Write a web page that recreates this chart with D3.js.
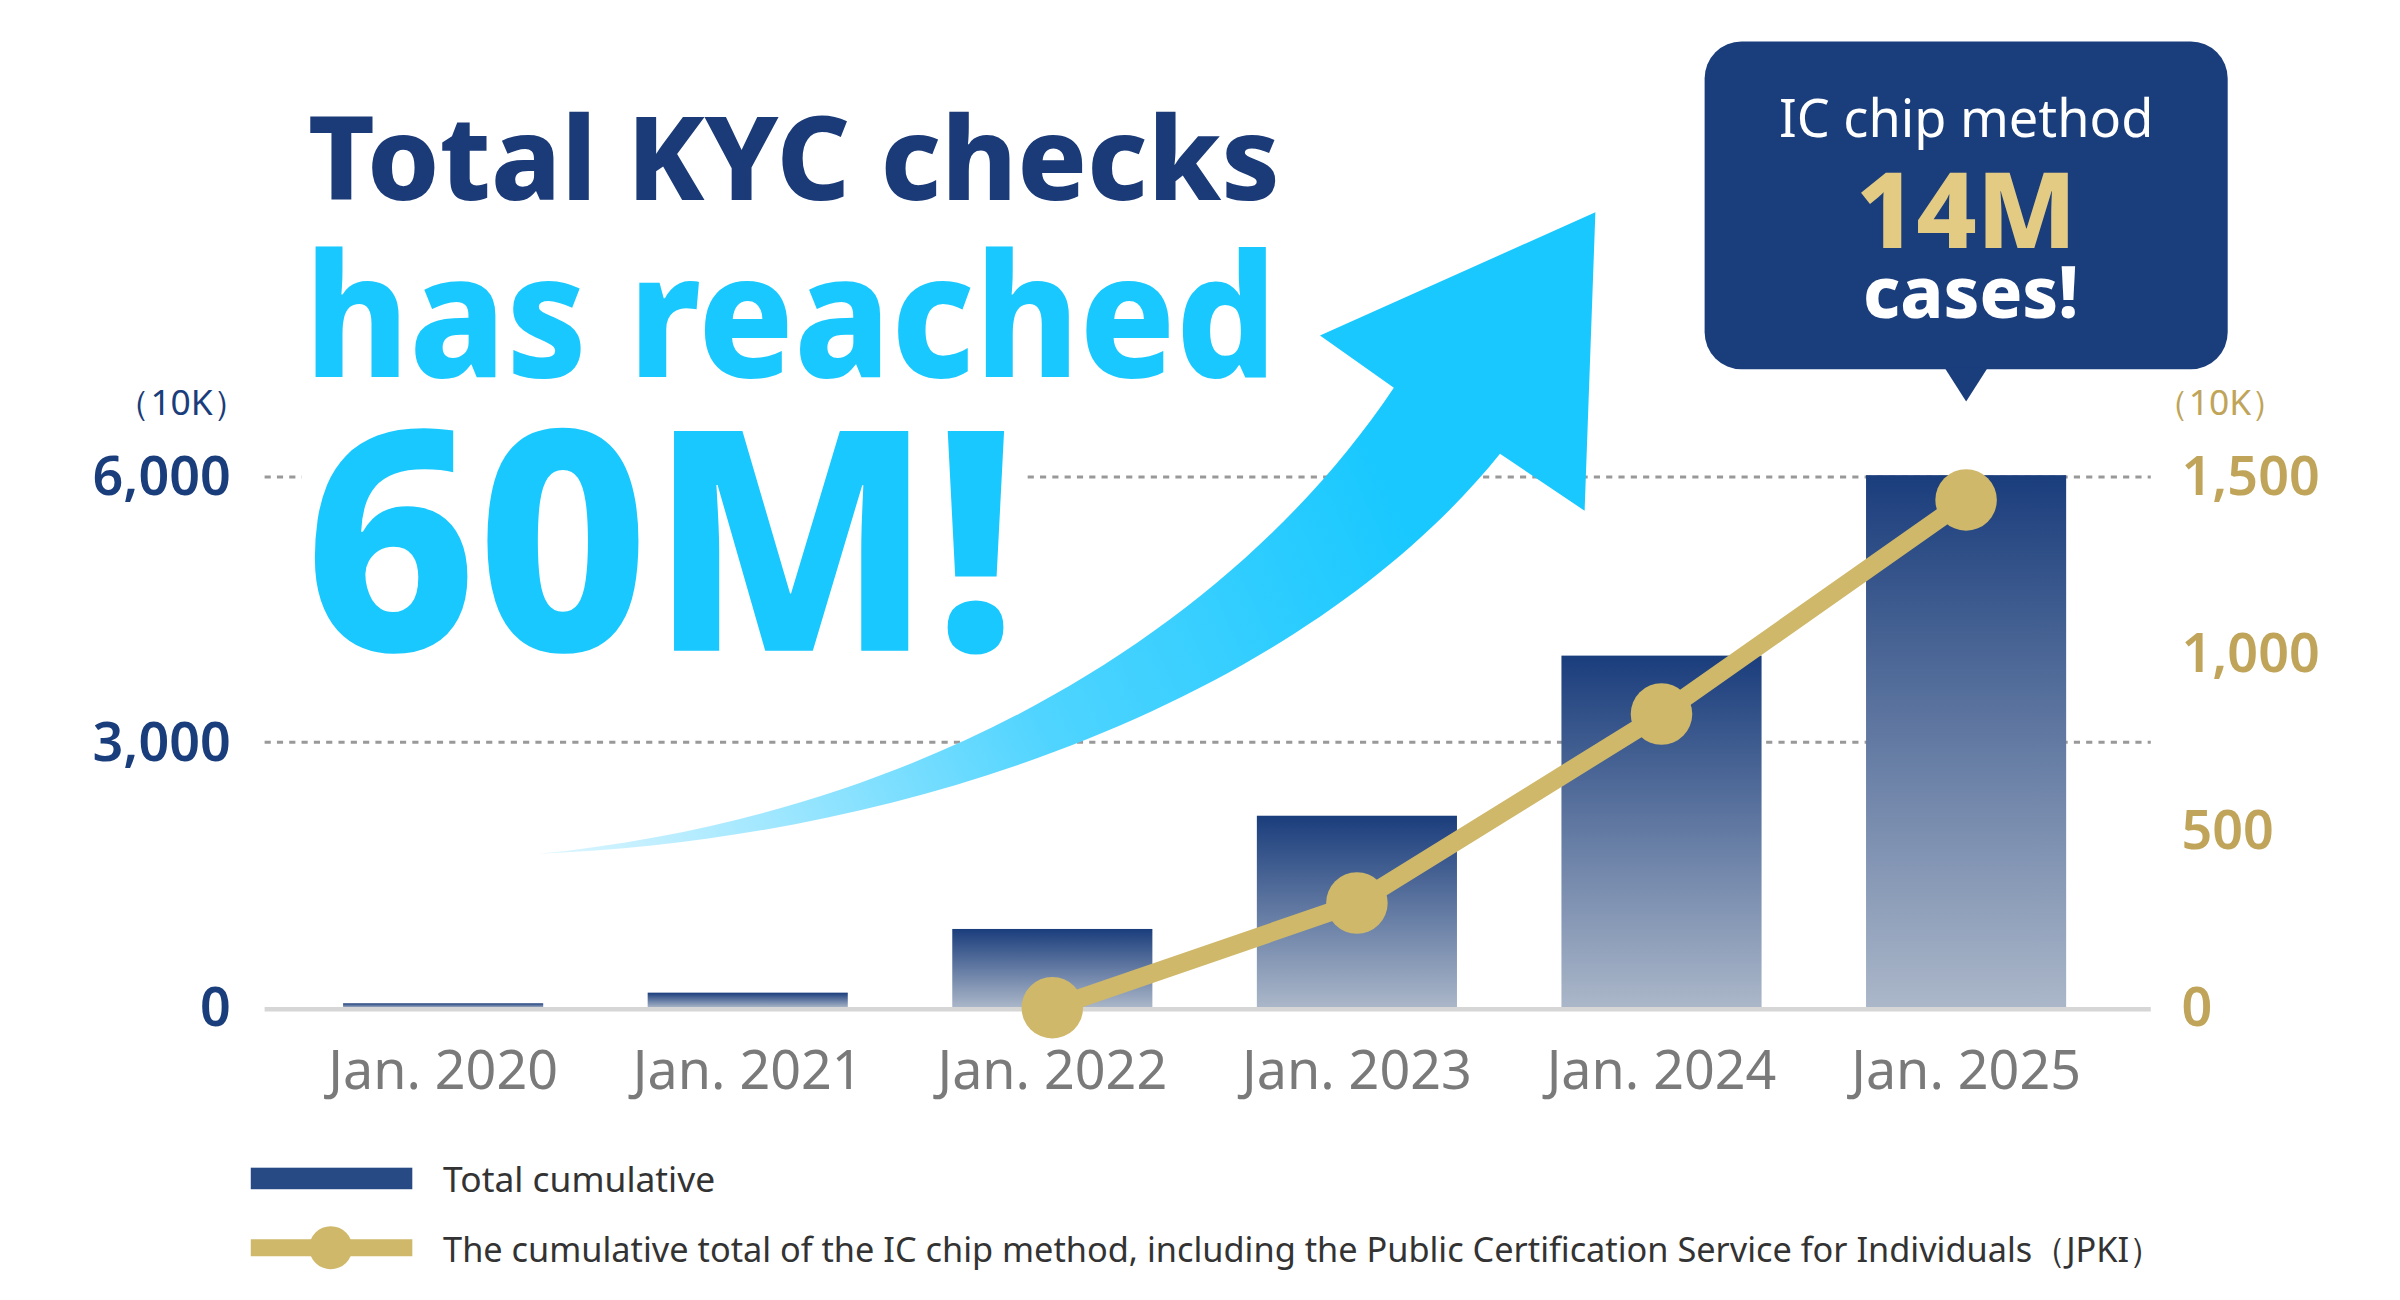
<!DOCTYPE html>
<html><head><meta charset="utf-8">
<script src="https://cdn.jsdelivr.net/npm/d3@7"></script>
<style>body{margin:0;background:#fff}</style></head>
<body><svg id="c" width="2400" height="1300"></svg>
<script>
const categories=["Jan. 2020","Jan. 2021","Jan. 2022","Jan. 2023","Jan. 2024","Jan. 2025"];
const totalValues=[50,170,890,2170,3980,6020];
const icYears=["Jan. 2022","Jan. 2023","Jan. 2024","Jan. 2025"];
const icValues=[0,296,830,1435];
const leftTicks=[0,3000,6000];
const rightTicks=[0,500,1000,1500];

const svg=d3.select("#c").attr("viewBox","0 0 1560 845");
const F="'Noto Sans', 'Open Sans', sans-serif";
const defs=svg.append("defs");
const bg=defs.append("linearGradient").attr("id","bg").attr("x1",0).attr("y1",0).attr("x2",0).attr("y2",1);
bg.append("stop").attr("offset",0).attr("stop-color","#1a3d7c");
bg.append("stop").attr("offset",1).attr("stop-color","#abb7c9");
const ag=defs.append("linearGradient").attr("id","ag").attr("gradientUnits","userSpaceOnUse").attr("x1",350).attr("y1",555).attr("x2",900).attr("y2",300);
ag.append("stop").attr("offset",0).attr("stop-color","#dff6ff");
ag.append("stop").attr("offset",0.55).attr("stop-color","#4fd4ff");
ag.append("stop").attr("offset",1).attr("stop-color","#18c8ff");

const x=d3.scaleBand().domain(categories).range([223,1343]).paddingInner(0.343).paddingOuter(0);
const yL=d3.scaleLinear().domain([0,6000]).range([655,310]);
const yR=d3.scaleLinear().domain([0,1500]).range([655,310]);
const cx=d=>x(d)+x.bandwidth()/2;

svg.append("g").selectAll("line").data(leftTicks.filter(d=>d>0)).join("line")
 .attr("x1",172).attr("x2",1398).attr("y1",d=>yL(d)).attr("y2",d=>yL(d))
 .attr("stroke","#999").attr("stroke-width",2).attr("stroke-dasharray","4,4");
svg.append("rect").attr("x",196).attr("y",270).attr("width",470).attr("height",160).attr("fill","#fff");

svg.append("g").selectAll("rect").data(totalValues).join("rect")
 .attr("x",(d,i)=>x(categories[i])).attr("width",x.bandwidth())
 .attr("y",d=>yL(d)).attr("height",d=>yL(0)-yL(d)).attr("fill","url(#bg)");
svg.append("line").attr("x1",172).attr("x2",1398).attr("y1",656).attr("y2",656).attr("stroke","#d6d6d6").attr("stroke-width",3);

svg.append("path").attr("d","M350,555 C600,545 850,450 975,295 L1030,332 L1037,138 L858,218 L906,252 C800,410 600,530 350,555 Z").attr("fill","url(#ag)");

const line=d3.line().x((d,i)=>cx(icYears[i])).y(d=>yR(d));
svg.append("path").attr("d",line(icValues)).attr("fill","none").attr("stroke","#cfb86a").attr("stroke-width",12);
svg.append("g").selectAll("circle").data(icValues).join("circle")
 .attr("cx",(d,i)=>cx(icYears[i])).attr("cy",d=>yR(d)).attr("r",20).attr("fill","#cfb86a");

const fmt=d3.format(",");
svg.append("g").selectAll("text").data(leftTicks).join("text").attr("x",150).attr("y",d=>yL(d)+12)
 .attr("text-anchor","end").attr("font-family",F).attr("font-size",35).attr("font-weight",600).attr("fill","#1a3d7c").text(fmt);
svg.append("g").selectAll("text").data(rightTicks).join("text").attr("x",1418).attr("y",d=>yR(d)+12)
 .attr("font-family",F).attr("font-size",35).attr("font-weight",600).attr("fill","#bfa459").text(fmt);
svg.append("text").attr("x",75).attr("y",270).attr("font-family",F).attr("font-size",23).attr("fill","#1a3d7c").text("（10K）");
svg.append("text").attr("x",1400).attr("y",270).attr("font-family",F).attr("font-size",23).attr("fill","#bfa459").text("（10K）");
svg.append("g").selectAll("text").data(categories).join("text").attr("x",d=>cx(d)).attr("y",708)
 .attr("text-anchor","middle").attr("font-family",F).attr("font-size",35).attr("fill","#7a7a7a").text(d=>d);

svg.append("text").attr("x",200).attr("y",130).attr("font-family",F).attr("font-weight",800).attr("font-size",76).attr("fill","#1a3a78").attr("textLength",632).attr("lengthAdjust","spacingAndGlyphs").text("Total KYC checks");
svg.append("text").attr("x",198).attr("y",245).attr("font-family",F).attr("font-weight",800).attr("font-size",112).attr("fill","#18c8ff").attr("textLength",632).attr("lengthAdjust","spacingAndGlyphs").text("has reached");
svg.append("text").attr("x",198).attr("y",423).attr("font-family",F).attr("font-weight",800).attr("font-size",200).attr("fill","#18c8ff").attr("textLength",464).attr("lengthAdjust","spacingAndGlyphs").text("60M!");

svg.append("rect").attr("x",1108).attr("y",27).attr("width",340).attr("height",213).attr("rx",24).attr("fill","#1a3d7c");
svg.append("path").attr("d","M1264,239 L1292,239 L1278,261 Z").attr("fill","#1a3d7c");
svg.append("text").attr("x",1278).attr("y",89).attr("text-anchor","middle").attr("font-family",F).attr("font-size",34).attr("fill","#fff").text("IC chip method");
svg.append("text").attr("x",1278).attr("y",161).attr("text-anchor","middle").attr("font-family",F).attr("font-weight",800).attr("font-size",68).attr("fill","#e3cb84").text("14M");
svg.append("text").attr("x",1281).attr("y",207).attr("text-anchor","middle").attr("font-family",F).attr("font-weight",800).attr("font-size",46).attr("fill","#fff").text("cases!");

svg.append("rect").attr("x",163).attr("y",759).attr("width",105).attr("height",14).attr("fill","#274a85");
svg.append("text").attr("x",288).attr("y",775).attr("font-family",F).attr("font-size",23).attr("fill","#333").text("Total cumulative");
svg.append("line").attr("x1",163).attr("x2",268).attr("y1",811).attr("y2",811).attr("stroke","#cfb86a").attr("stroke-width",11);
svg.append("circle").attr("cx",215).attr("cy",811).attr("r",14).attr("fill","#cfb86a");
svg.append("text").attr("x",288).attr("y",820).attr("font-family",F).attr("font-size",23).attr("fill","#333").attr("textLength",1118).attr("lengthAdjust","spacingAndGlyphs").text("The cumulative total of the IC chip method, including the Public Certification Service for Individuals（JPKI）");
</script></body></html>
